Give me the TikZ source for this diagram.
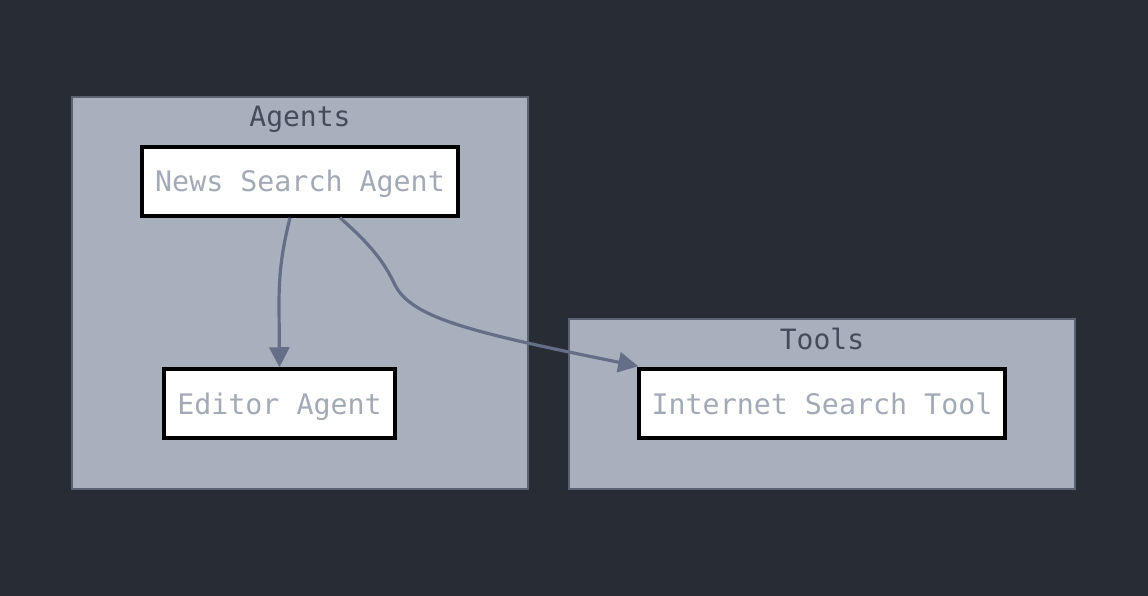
\documentclass[tikz,border=0pt]{standalone}
\usepackage{fontspec}
\setmonofont{DejaVu Sans Mono}
\usetikzlibrary{arrows.meta}
\definecolor{bgc}{HTML}{282C34}
\definecolor{clfill}{HTML}{A9B0BD}
\definecolor{cldraw}{HTML}{5C6370}
\definecolor{cltext}{HTML}{454B5A}
\definecolor{ndtext}{HTML}{A3AAB6}
\definecolor{edgec}{HTML}{646E87}
\tikzset{
  cluster/.style={draw=cldraw, fill=clfill, line width=1.5pt},
  cllabel/.style={text=cltext, font=\ttfamily\fontsize{28}{33}\selectfont, inner sep=0pt, text height=24pt, text depth=6pt},
  agentbox/.style={draw=black, fill=white, line width=3.5pt, text=ndtext, font=\ttfamily\fontsize{28.3}{33}\selectfont, inner sep=0pt, text height=26pt, text depth=5pt, minimum height=69pt},
  flow/.style={draw=edgec, line width=3.2pt, -{Triangle[length=20pt,width=20pt]}}
}
\begin{document}
\begin{tikzpicture}[x=1pt,y=-1pt]
\useasboundingbox (0,0) rectangle (1148,596);
\fill[bgc] (0,0) rectangle (1148,596);
\draw[cluster] (72,97) rectangle (528,489);
\draw[cluster] (569,319) rectangle (1075,489);
\node[cllabel] (lagents) at (300,118) {Agents};
\node[cllabel] (ltools) at (822,340) {Tools};
\node[agentbox, minimum width=316pt] (news) at (300,181.5) {News Search Agent};
\node[agentbox, minimum width=231pt] (editor) at (279.5,403.5) {Editor Agent};
\node[agentbox, minimum width=366pt] (tool) at (822,403.5) {Internet Search Tool};
\draw[flow] ([xshift=-10pt]news.south) .. controls (282,250) and (279,272) .. (279,305) -- (editor.north);
\draw[flow] ([xshift=40pt]news.south) .. controls (372,246) and (384,262) .. (395,285) .. controls (412,318) and (470,332) .. ([xshift=1pt,yshift=1pt]tool.north west);
\end{tikzpicture}
\end{document}
